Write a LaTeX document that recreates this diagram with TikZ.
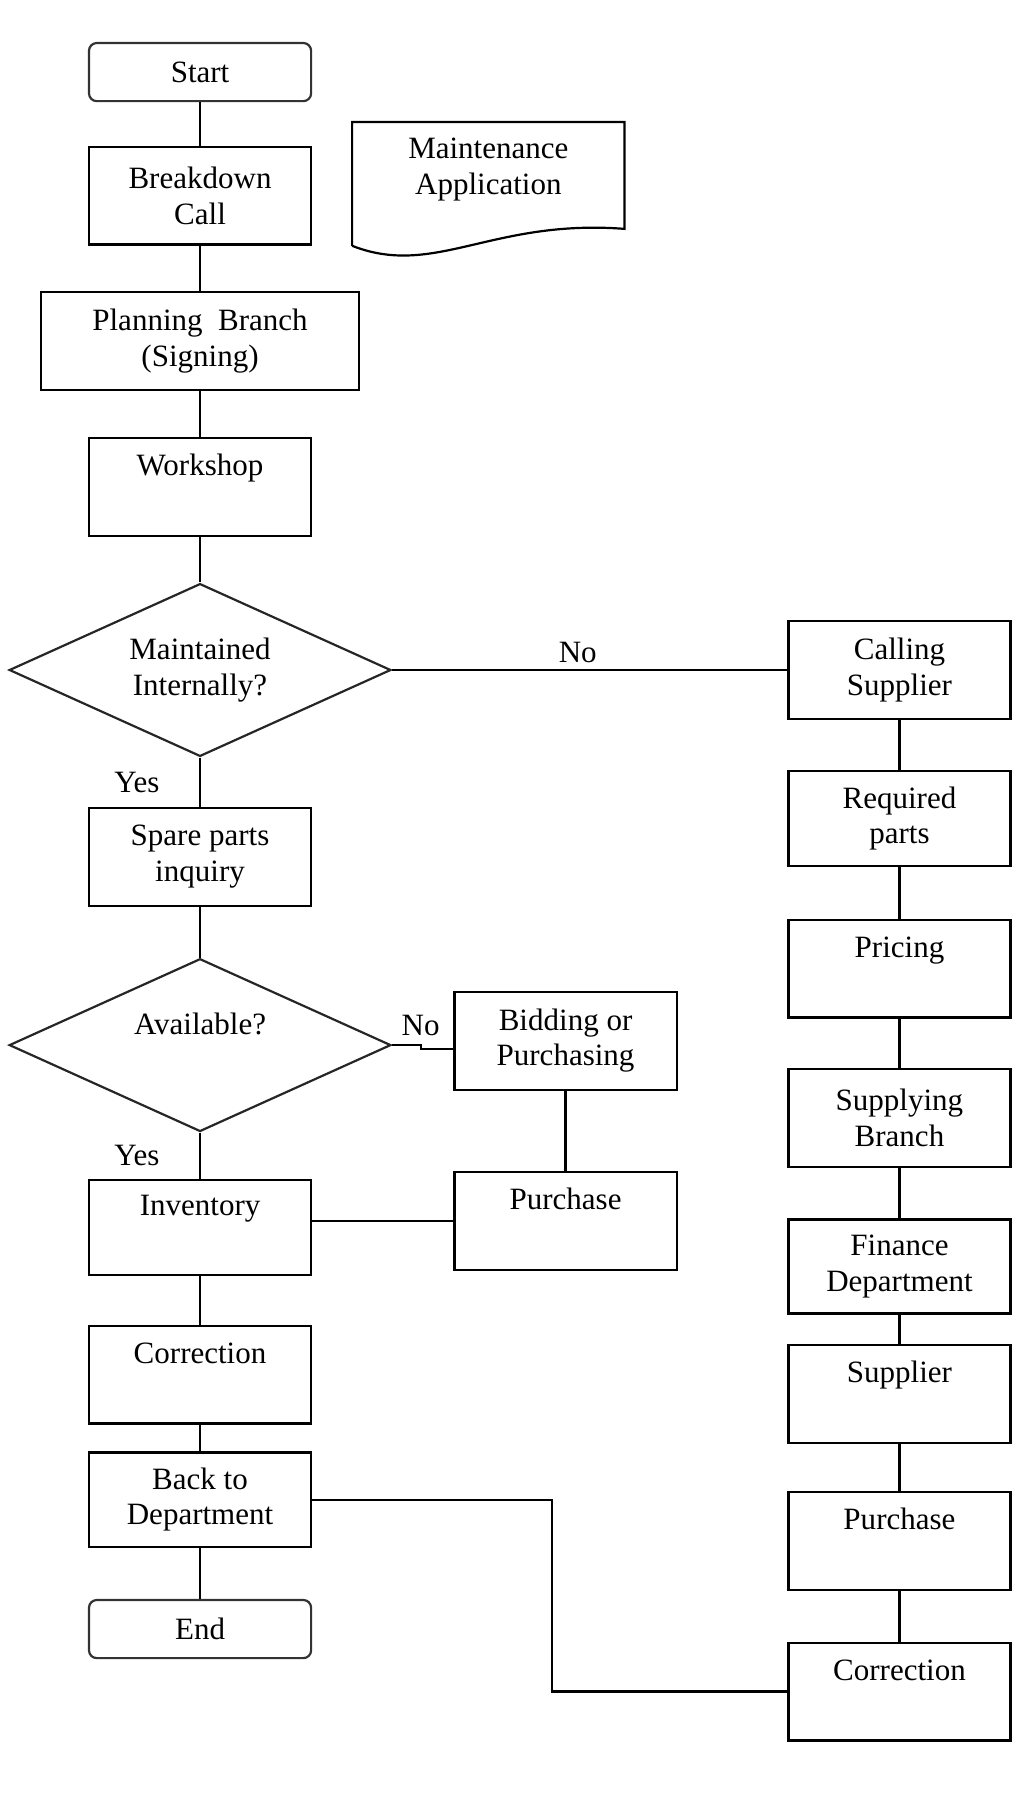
\documentclass[tikz,border=0pt]{standalone}
\usepackage{fontspec}
\setmainfont{Liberation Serif}
\usepackage{tikz}
\usetikzlibrary{shapes.geometric, calc}

\begin{document}
\begin{tikzpicture}[
  conn/.style={line width=0.85pt},
  lbl/.style={font=\fontsize{12}{13.8}\selectfont},
  box/.style={draw, rectangle, line width=0.85pt, minimum width=3.02cm, minimum height=1.33cm, align=center, lbl},
  terminal/.style={box, rounded corners=3pt, minimum height=0.79cm, draw=black!80},
  decision/.style={box, diamond, aspect=2.2, minimum width=5.19cm, minimum height=2.35cm, inner sep=1pt, draw=black!85}
]
  \useasboundingbox (0,0) rectangle (13.99,-24.42);

  % LEFT: main maintenance path
  \node (start) [terminal] at (2.72, -0.98) {Start};
  \node (call) [box] at (2.72, -2.66) {Breakdown\\Call};
  \node (app) [lbl, minimum width=3.69cm, minimum height=1.67cm, align=center] at (6.64, -2.50) {Maintenance\\Application\\~};
  \node (plan) [box, minimum width=4.32cm] at (2.72, -4.64) {Planning~ Branch\\(Signing)};
  \node (work) [box] at (2.72, -6.62) {Workshop\\[3pt]~};
  \node (d1) [decision] at (2.72, -9.11) {Maintained\\Internally?};
  \node (spare) [box] at (2.72, -11.65) {Spare parts\\inquiry};
  \node (d2) [decision] at (2.72, -14.21) {Available?\\[3pt]~};
  \node (inv) [box, minimum height=1.29cm] at (2.72, -16.69) {Inventory\\[3pt]~};
  \node (corr1) [box] at (2.72, -18.69) {Correction\\[3pt]~};
  \node (back) [box, minimum height=1.28cm] at (2.72, -20.39) {Back to\\Department};
  \node (end) [terminal] at (2.72, -22.15) {End};

  % MIDDLE: bidding branch
  \node (bid) [box] at (7.69, -14.15) {Bidding or\\Purchasing};
  \node (pur1) [box] at (7.69, -16.60) {Purchase\\[3pt]~};

  % RIGHT: outside supplier path
  \node (calling) [box] at (12.23, -9.11) {Calling\\Supplier};
  \node (req) [box, minimum height=1.29cm] at (12.23, -11.13) {Required\\parts};
  \node (price) [box] at (12.23, -13.17) {Pricing\\[3pt]~};
  \node (supb) [box] at (12.23, -15.20) {Supplying\\Branch};
  \node (fin) [box, minimum height=1.28cm] at (12.23, -17.22) {Finance\\Department};
  \node (supp) [box] at (12.23, -18.95) {Supplier\\[3pt]~};
  \node (pur2) [box] at (12.23, -20.95) {Purchase\\[3pt]~};
  \node (corr2) [box] at (12.23, -23.00) {Correction\\[3pt]~};

  % document outline with wavy bottom
  \draw[conn] (app.south west) -- (app.north west) -- (app.north east) -- ($(app.south east)+(0,0.23)$)
    .. controls ($(app.south west)+(1.90,0.37)$) and ($(app.south west)+(1.12,-0.44)$) .. (app.south west);

  % connectors
  \draw[conn] (start) -- (call);
  \draw[conn] (call) -- (plan);
  \draw[conn] (plan) -- (work);
  \draw[conn] (work) -- (d1.north);
  \draw[conn] (d1.east) -- node[lbl, above=-1pt, pos=0.47] {No} (calling.west);
  \draw[conn] (d1.south) -- node[lbl, left=0.42cm] {Yes} (spare.north);
  \draw[conn] (spare) -- (d2.north);
  \draw[conn] (d2.east) -- ++(0.39,0) node[lbl, above] {No} |- ([yshift=-0.11cm]bid.west);
  \draw[conn] (bid) -- (pur1);
  \draw[conn] (pur1.west) -- (pur1.west -| inv.east);
  \draw[conn] (d2.south) -- node[lbl, left=0.42cm] {Yes} (inv.north);
  \draw[conn] (inv) -- (corr1);
  \draw[conn] (corr1) -- (back);
  \draw[conn] (back) -- (end);
  \draw[conn] (back.east) -- ++(3.26,0) |- (corr2.west);

  \draw[conn] (calling) -- (req);
  \draw[conn] (req) -- (price);
  \draw[conn] (price) -- (supb);
  \draw[conn] (supb) -- (fin);
  \draw[conn] (fin) -- (supp);
  \draw[conn] (supp) -- (pur2);
  \draw[conn] (pur2) -- (corr2);

\end{tikzpicture}
\end{document}
